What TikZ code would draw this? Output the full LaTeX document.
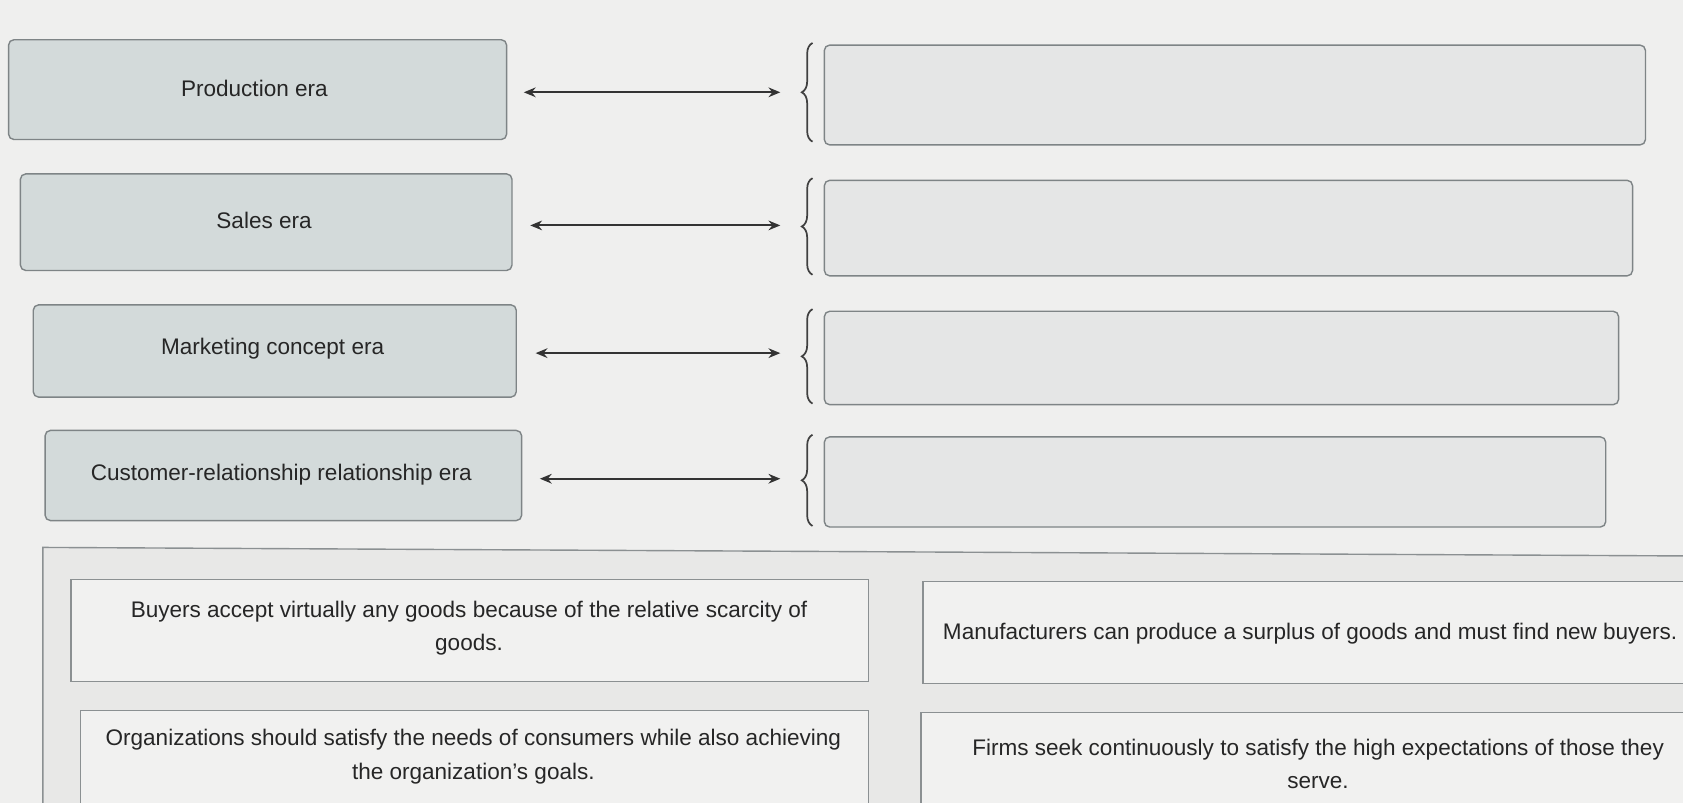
\documentclass[tikz,border=0pt]{standalone}
\usepackage{fontspec}
\setmainfont{Liberation Sans}
\usetikzlibrary{decorations.pathreplacing,arrows.meta}
\definecolor{bg}{HTML}{EFEFEE}
\definecolor{leftfill}{HTML}{D3DADA}
\definecolor{rightfill}{HTML}{E5E6E6}
\definecolor{panel}{HTML}{E8E8E7}
\definecolor{card}{HTML}{F1F1F0}
\definecolor{edge}{HTML}{7E8486}
\begin{document}
\begin{tikzpicture}[x=1pt,y=-1pt,
  era/.style={draw=edge,fill=leftfill,rounded corners=5pt,line width=1.3pt},
  slot/.style={draw=edge,fill=rightfill,rounded corners=5pt,line width=1.3pt},
  cardbox/.style={draw=edge!90,fill=card,line width=1.3pt},
  txt/.style={font=\fontsize{21}{31}\selectfont,text=black!85,align=center},
  link/.style={{Stealth[length=11pt,width=9pt]}-{Stealth[length=11pt,width=9pt]},line width=2pt,black!80},
  br/.style={decorate,decoration={brace,amplitude=10pt},line width=1.6pt,black!75}]
\useasboundingbox (0,0) rectangle (1568,748);
\clip (0,0) rectangle (1568,748);
\fill[bg] (0,0) rectangle (1568,748);
% left era boxes
\draw[era] (8,37) rectangle (472,130);
\node[txt] (e1) at (237,82) {Production era};
\draw[era] (19,162) rectangle (477,252);
\node[txt] (e2) at (246,205) {Sales era};
\draw[era] (31,284) rectangle (481,370);
\node[txt] (e3) at (254,325) {Marketing concept era};
\draw[era] (42,401) rectangle (486,485);
\node[txt] (e4) at (262,442) {Customer-relationship relationship era};
% arrows
\coordinate (a1) at (488,86); \coordinate (b1) at (727,86);
\coordinate (a2) at (494,210); \coordinate (b2) at (727,210);
\coordinate (a3) at (499,329); \coordinate (b3) at (727,329);
\coordinate (a4) at (503,446); \coordinate (b4) at (727,446);
\draw[link] (a1) -- (b1);
\draw[link] (a2) -- (b2);
\draw[link] (a3) -- (b3);
\draw[link] (a4) -- (b4);
% braces
\coordinate (t1) at (757,40); \coordinate (u1) at (757,132);
\coordinate (t2) at (757,166); \coordinate (u2) at (757,256);
\coordinate (t3) at (757,288); \coordinate (u3) at (757,376);
\coordinate (t4) at (757,405); \coordinate (u4) at (757,490);
\draw[br] (u1) -- (t1);
\draw[br] (u2) -- (t2);
\draw[br] (u3) -- (t3);
\draw[br] (u4) -- (t4);
% right slots
\draw[slot] (768,42) rectangle (1533,135);
\draw[slot] (768,168) rectangle (1521,257);
\draw[slot] (768,290) rectangle (1508,377);
\draw[slot] (768,407) rectangle (1496,491);
% bottom panel
\draw[draw=edge!90,fill=panel,line width=1.3pt] (40,510) -- (1580,518) -- (1580,760) -- (40,760) -- cycle;
\draw[cardbox] (66,540) rectangle (809,635);
\node[txt] (c1) at (437,585) {Buyers accept virtually any goods because of the relative scarcity of\\goods.};
\draw[cardbox] (860,542) rectangle (1600,637);
\node[txt,anchor=west] (c2) at (875,590) {Manufacturers can produce a surplus of goods and must find new buyers.};
\draw[cardbox] (75,662) rectangle (809,760);
\node[txt] (c3) at (441,705) {Organizations should satisfy the needs of consumers while also achieving\\the organization's goals.};
\draw[cardbox] (858,664) rectangle (1600,760);
\node[txt] (c4) at (1228,712) {Firms seek continuously to satisfy the high expectations of those they\\serve.};
\end{tikzpicture}
\end{document}
